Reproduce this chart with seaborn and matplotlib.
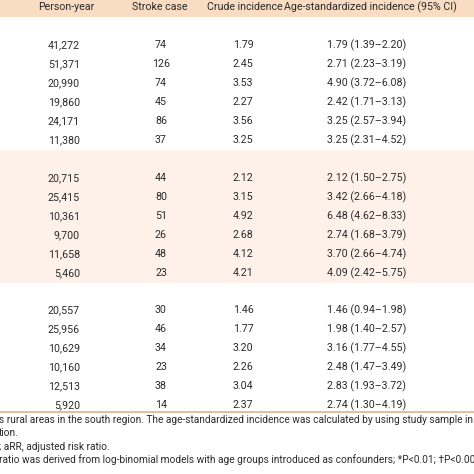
import matplotlib
matplotlib.use("Agg")
import matplotlib.pyplot as plt
import seaborn as sns

sns.set_theme(style="white")
plt.rcParams['font.family'] = ['Roboto', 'DejaVu Sans']

headers = ["Person-year", "Stroke case", "Crude incidence", "Age-standardized incidence (95% CI)"]
person_year = ["41,272", "51,371", "20,990", "19,860", "24,171", "11,380",
               "20,715", "25,415", "10,361", "9,700", "11,658", "5,460",
               "20,557", "25,956", "10,629", "10,160", "12,513", "5,920"]
stroke_case = ["74", "126", "74", "45", "86", "37",
               "44", "80", "51", "26", "48", "23",
               "30", "46", "34", "23", "38", "14"]
crude = ["1.79", "2.45", "3.53", "2.27", "3.56", "3.25",
         "2.12", "3.15", "4.92", "2.68", "4.12", "4.21",
         "1.46", "1.77", "3.20", "2.26", "3.04", "2.37"]
age_std = ["1.79 (1.39–2.20)", "2.71 (2.23–3.19)", "4.90 (3.72–6.08)", "2.42 (1.71–3.13)",
           "3.25 (2.57–3.94)", "3.25 (2.31–4.52)",
           "2.12 (1.50–2.75)", "3.42 (2.66–4.18)", "6.48 (4.62–8.33)", "2.74 (1.68–3.79)",
           "3.70 (2.66–4.74)", "4.09 (2.42–5.75)",
           "1.46 (0.94–1.98)", "1.98 (1.40–2.57)", "3.16 (1.77–4.55)", "2.48 (1.47–3.49)",
           "2.83 (1.93–3.72)", "2.74 (1.30–4.19)"]
footnotes = ["s rural areas in the south region. The age-standardized incidence was calculated by using study sample in rural ar",
             "tion.",
             "; aRR, adjusted risk ratio.",
             "ratio was derived from log-binomial models with age groups introduced as confounders; *P<0.01; †P<0.001; ‡P<0"]

fig = plt.figure(figsize=(4.74, 4.74), dpi=100)
ax = fig.add_axes([0, 0, 1, 1])
ax.set_xlim(0, 474)
ax.set_ylim(474, 0)
ax.axis("off")

ax.add_patch(plt.Rectangle((0, 0), 474, 17, color="#f9dcc2", lw=0))
ax.add_patch(plt.Rectangle((0, 150), 474, 133, color="#fdf1ea", lw=0))
ax.plot([0, 474], [412, 412], color="#d9b48f", lw=1.2)

tc = "#2b2b2b"
fs = 7.7
hx = [66, 160, 245, 370]
for x, h in zip(hx, headers):
    ax.text(x, 7, h, ha="center", va="center", fontsize=fs, color=tc)

group_start = [45, 178, 310]
for i in range(18):
    g, r = divmod(i, 6)
    y = group_start[g] + r * 19
    ax.text(80, y, person_year[i], ha="right", va="center", fontsize=fs, color=tc)
    ax.text(161, y, stroke_case[i], ha="center", va="center", fontsize=fs, color=tc)
    ax.text(243, y, crude[i], ha="center", va="center", fontsize=fs, color=tc)
    ax.text(406, y, age_std[i], ha="right", va="center", fontsize=fs, color=tc)

for y, t in zip([420, 433, 447, 460], footnotes):
    ax.text(-1, y, t, ha="left", va="center", fontsize=7.3, color=tc, clip_on=True)

fig.savefig("out.png", dpi=100)
